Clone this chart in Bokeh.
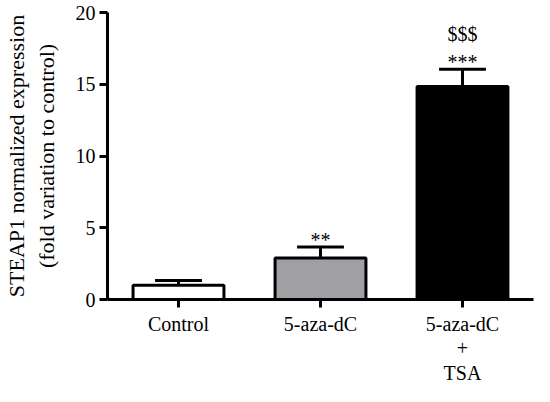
from bokeh.plotting import figure
from bokeh.models import FixedTicker, Range1d, ColumnDataSource
from bokeh.core.properties import value
from bokeh.embed import file_html
from bokeh.resources import INLINE

categories = ["Control", "5-aza-dC", "5-aza-dC\n+\nTSA"]
means = [1.0, 2.9, 14.85]
errors = [0.32, 0.75, 1.2]
bar_colors = ["white", "#a0a0a4", "black"]
stars = ["", "**", "***"]
dollars = ["", "", "$$$"]
y_ticks = [0, 5, 10, 15, 20]

FONT = "'Liberation Serif', serif"

x = list(range(len(categories)))
tops = [m + e for m, e in zip(means, errors)]
cap = 0.165

src = ColumnDataSource(dict(
    x=x, mean=means, top=tops, color=bar_colors, stars=stars, dollars=dollars,
    cl=[v - cap for v in x], cr=[v + cap for v in x],
))

p = figure(width=534, height=386, output_backend="svg", toolbar_location=None,
           x_range=Range1d(-0.5, 2.5), y_range=Range1d(0, 20),
           min_border_top=12, min_border_right=1, min_border_left=96,
           min_border_bottom=86)
p.outline_line_color = None
p.xgrid.visible = False
p.ygrid.visible = False
p.background_fill_color = "white"
p.border_fill_color = "white"

# error bars (upper only)
p.segment(x0="x", y0="mean", x1="x", y1="top", source=src, line_color="black", line_width=3)
p.segment(x0="cl", y0="top", x1="cr", y1="top", source=src, line_color="black", line_width=3)

# bars
p.vbar(x="x", top="mean", bottom=0, width=0.64, source=src, fill_color="color",
       line_color="black", line_width=3)

# significance annotations
p.text(x="x", y="top", text="stars", source=src, text_align="center",
       text_baseline="alphabetic", y_offset=-7, text_font=value(FONT),
       text_font_size="20px", text_color="black")
p.text(x="x", y="top", text="dollars", source=src, text_align="center",
       text_baseline="alphabetic", y_offset=-35, text_font=value(FONT),
       text_font_size="20px", text_color="black")

# axes
p.axis.axis_line_width = 3
p.axis.axis_line_color = "black"
p.axis.major_tick_line_width = 3
p.axis.major_tick_line_color = "black"
p.axis.major_tick_out = 8
p.axis.major_tick_in = 0
p.axis.minor_tick_out = 0
p.axis.minor_tick_in = 0
p.axis.major_label_text_font = FONT
p.axis.major_label_text_color = "black"

p.xaxis.ticker = FixedTicker(ticks=x)
p.xaxis.major_label_overrides = {i: c for i, c in zip(x, categories)}
p.xaxis.major_label_text_font_size = "20px"
p.xaxis.major_label_standoff = 5
p.xaxis.major_label_text_line_height = 1.12

p.yaxis.ticker = FixedTicker(ticks=y_ticks)
p.yaxis.major_label_text_font_size = "20px"
p.yaxis.major_label_standoff = 4
p.yaxis.axis_label = "STEAP1 normalized expression\n(fold variation to control)"
p.yaxis.axis_label_text_font = FONT
p.yaxis.axis_label_text_font_size = "22px"
p.yaxis.axis_label_text_font_style = "normal"
p.yaxis.axis_label_text_color = "black"
p.yaxis.axis_label_standoff = 14

open("out.html", "w").write(file_html(p, INLINE))
